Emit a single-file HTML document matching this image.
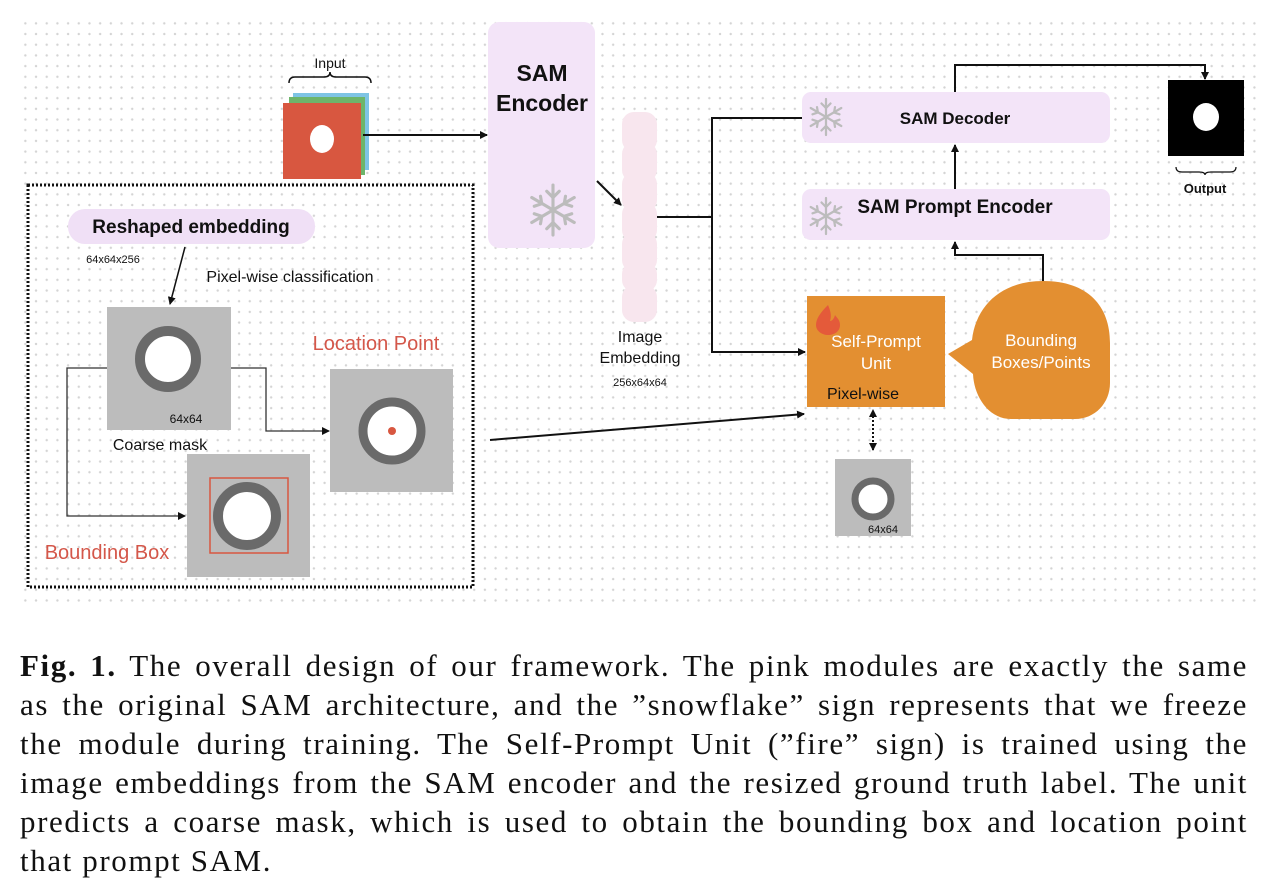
<!DOCTYPE html>
<html><head><meta charset="utf-8"><style>
body{margin:0;width:1280px;height:879px;background:#fff;position:relative;overflow:hidden;font-family:"Liberation Sans",sans-serif}
.bg{position:absolute;left:20px;top:18px;width:1240px;height:590px;background-image:radial-gradient(circle,#d4d4d4 1px,transparent 1.4px);background-size:10.7px 10.7px}
svg{position:absolute;left:0;top:0}
.cap{position:absolute;left:20px;width:1228px;font-family:"Liberation Serif",serif;font-size:31px;letter-spacing:1.6px;line-height:39px;text-align:justify;text-align-last:justify;color:#111;white-space:nowrap}
.cap.last{text-align-last:left}
</style></head><body>
<div class="bg"></div>
<svg width="1280" height="620" viewBox="0 0 1280 620">
<defs>
<marker id="ah" markerWidth="8" markerHeight="8" refX="7" refY="4" orient="auto" markerUnits="userSpaceOnUse"><path d="M0,0L8,4L0,8z" fill="#111"/></marker>
<marker id="ahs" markerWidth="10" markerHeight="10" refX="1" refY="4" orient="auto-start-reverse" markerUnits="userSpaceOnUse"><path d="M0,0L8,4L0,8z" fill="#111"/></marker>
<g id="snow" stroke="#bcbcbc" stroke-width="2.5" fill="none" stroke-linecap="round">
<line x1="0" y1="-20" x2="0" y2="20"/><line x1="-17" y1="-10" x2="17" y2="10"/><line x1="-17" y1="10" x2="17" y2="-10"/>
<path d="M-5,-15L0,-10L5,-15M-5,15L0,10L5,15M-15,-3L-9,-5L-10,-11M15,3L9,5L10,11M-15,3L-9,5L-10,11M15,-3L9,-5L10,-11"/>
</g>
</defs>
<text x="330" y="68" font-size="14" text-anchor="middle" fill="#111">Input</text>
<path d="M289,83 q0,-6 6,-6 h29 q6,0 6,-5 q0,5 6,5 h29 q6,0 6,6" stroke="#111" stroke-width="1.5" fill="none"/>
<rect x="293" y="93" width="76" height="77" fill="#7ec4e4"/>
<rect x="289" y="97" width="76" height="78" fill="#6db56a"/>
<rect x="283" y="103" width="78" height="76" fill="#d85740"/>
<ellipse cx="322" cy="139" rx="12" ry="14" fill="#fff"/>
<line x1="363" y1="135" x2="487" y2="135" stroke="#111" stroke-width="2" marker-end="url(#ah)"/>
<rect x="488" y="22" width="107" height="226" rx="11" fill="#f3e4f8"/>
<text x="542" y="81" font-size="23" font-weight="bold" text-anchor="middle" fill="#111">SAM</text>
<text x="542" y="111" font-size="23" font-weight="bold" text-anchor="middle" fill="#111">Encoder</text>
<use href="#snow" transform="translate(553,210) scale(1.25)"/>
<line x1="597" y1="181" x2="621" y2="205" stroke="#111" stroke-width="2" marker-end="url(#ah)"/>
<g fill="#f8e6ee"><rect x="622" y="112" width="35" height="40" rx="12"/><rect x="622" y="142" width="35" height="40" rx="12"/><rect x="622" y="172" width="35" height="40" rx="12"/><rect x="622" y="202" width="35" height="40" rx="12"/><rect x="622" y="232" width="35" height="40" rx="12"/><rect x="622" y="262" width="35" height="30" rx="12"/><rect x="622" y="285" width="35" height="37" rx="12"/></g>
<text x="640" y="342" font-size="16" text-anchor="middle" fill="#111">Image</text>
<text x="640" y="363" font-size="16" text-anchor="middle" fill="#111">Embedding</text>
<text x="640" y="386" font-size="11" text-anchor="middle" fill="#111">256x64x64</text>
<path d="M657,217H712M802,118H712V352H805" stroke="#111" stroke-width="2" fill="none" marker-end="url(#ah)"/>
<rect x="802" y="92" width="308" height="51" rx="9" fill="#f3e4f8"/>
<text x="955" y="124" font-size="17" font-weight="bold" text-anchor="middle" fill="#111">SAM Decoder</text>
<use href="#snow" transform="translate(826,117) scale(0.9)"/>
<rect x="802" y="189" width="308" height="51" rx="9" fill="#f3e4f8"/>
<text x="955" y="213" font-size="19" font-weight="bold" text-anchor="middle" fill="#111">SAM Prompt Encoder</text>
<use href="#snow" transform="translate(826,216) scale(0.9)"/>
<line x1="955" y1="189" x2="955" y2="145" stroke="#111" stroke-width="2" marker-end="url(#ah)"/>
<path d="M955,92V65H1205V79" stroke="#111" stroke-width="2" fill="none" marker-end="url(#ah)"/>
<path d="M1043,282V255H955V242" stroke="#111" stroke-width="2" fill="none" marker-end="url(#ah)"/>
<rect x="1168" y="80" width="76" height="76" fill="#000"/>
<ellipse cx="1206" cy="117" rx="13" ry="14" fill="#fff"/>
<path d="M1176,167q0,5 6,5h17q6,0 6,3q0,-3 6,-3h19q6,0 6,-5" stroke="#111" stroke-width="1.2" fill="none"/>
<text x="1205" y="193" font-size="13" font-weight="bold" text-anchor="middle" fill="#111">Output</text>
<rect x="807" y="296" width="138" height="111" fill="#e38f31"/>
<path d="M828,305c-8,8 -12,14 -12,20c0,6 6,10 12,10c7,0 12,-4 12,-10c0,-5 -3,-7 -5,-10c-1,4 -3,6 -5,6c2,-6 0,-11 -2,-16z" fill="#e45a3a"/>
<text x="876" y="347" font-size="17" text-anchor="middle" fill="#fff">Self-Prompt</text>
<text x="876" y="369" font-size="17" text-anchor="middle" fill="#fff">Unit</text>
<text x="863" y="399" font-size="16" text-anchor="middle" fill="#111">Pixel-wise</text>
<path d="M1043,281c45,0 67,25 67,62v40c0,20 -15,36 -35,36h-64c-22,0 -37,-22 -38,-45l-25,-20l24,-14c4,-35 30,-59 71,-59z" fill="#e38f31"/>
<text x="1041" y="346" font-size="17" text-anchor="middle" fill="#fff">Bounding</text>
<text x="1041" y="368" font-size="17" text-anchor="middle" fill="#fff">Boxes/Points</text>
<line x1="873" y1="416" x2="873" y2="450" stroke="#111" stroke-width="2" stroke-dasharray="2,2" marker-end="url(#ah)" marker-start="url(#ahs)"/>
<rect x="835" y="459" width="76" height="77" fill="#bcbcbc"/>
<circle cx="873" cy="499" r="18" fill="#fff" stroke="#6a6a6a" stroke-width="7"/>
<text x="883" y="533" font-size="11" text-anchor="middle" fill="#111">64x64</text>
<line x1="490" y1="440" x2="804" y2="414" stroke="#111" stroke-width="2" marker-end="url(#ah)"/>
<rect x="28" y="185" width="445" height="402" fill="none" stroke="#111" stroke-width="3" stroke-dasharray="2,2"/>
<rect x="68" y="209" width="247" height="35" rx="17" fill="#f0e0f6"/>
<text x="191" y="233" font-size="19" font-weight="bold" text-anchor="middle" fill="#111">Reshaped embedding</text>
<text x="113" y="263" font-size="11" text-anchor="middle" fill="#111">64x64x256</text>
<line x1="185" y1="247" x2="170" y2="304" stroke="#111" stroke-width="1.5" marker-end="url(#ah)"/>
<text x="290" y="282" font-size="16" text-anchor="middle" fill="#111">Pixel-wise classification</text>
<rect x="107" y="307" width="124" height="123" fill="#bcbcbc"/>
<circle cx="168" cy="359" r="28" fill="#fff" stroke="#6a6a6a" stroke-width="10"/>
<text x="186" y="423" font-size="12" text-anchor="middle" fill="#111">64x64</text>
<text x="160" y="450" font-size="16" text-anchor="middle" fill="#111">Coarse mask</text>
<path d="M107,368H67V516H185" stroke="#333" stroke-width="1.3" fill="none" marker-end="url(#ah)"/>
<path d="M231,368H266V431H329" stroke="#333" stroke-width="1.3" fill="none" marker-end="url(#ah)"/>
<text x="376" y="350" font-size="20" text-anchor="middle" fill="#d4574a">Location Point</text>
<rect x="330" y="369" width="123" height="123" fill="#bcbcbc"/>
<circle cx="392" cy="431" r="29" fill="#fff" stroke="#6a6a6a" stroke-width="9"/>
<circle cx="392" cy="431" r="4" fill="#d85740"/>
<rect x="187" y="454" width="123" height="123" fill="#bcbcbc"/>
<circle cx="247" cy="516" r="29" fill="#fff" stroke="#6a6a6a" stroke-width="10"/>
<rect x="210" y="478" width="78" height="75" fill="none" stroke="#d85740" stroke-width="1.5"/>
<text x="107" y="559" font-size="20" text-anchor="middle" fill="#d4574a">Bounding Box</text>
</svg>
<div class="cap" style="top:646px"><b>Fig. 1.</b> The overall design of our framework. The pink modules are exactly the same</div>
<div class="cap" style="top:685px">as the original SAM architecture, and the ”snowflake” sign represents that we freeze</div>
<div class="cap" style="top:724px">the module during training. The Self-Prompt Unit (”fire” sign) is trained using the</div>
<div class="cap" style="top:763px">image embeddings from the SAM encoder and the resized ground truth label. The unit</div>
<div class="cap" style="top:802px">predicts a coarse mask, which is used to obtain the bounding box and location point</div>
<div class="cap last" style="top:841px">that prompt SAM.</div>
</body></html>
